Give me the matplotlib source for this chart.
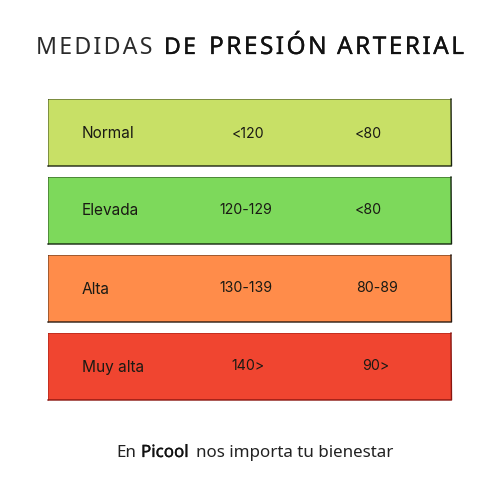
import matplotlib
matplotlib.use("Agg")
import matplotlib.pyplot as plt
import matplotlib.patheffects as pe

categories = ["Normal", "Elevada", "Alta", "Muy alta"]
sistolica = ["<120", "120-129", "130-139", "140>"]
diastolica = ["<80", "<80", "80-89", "90>"]
colores = ["#C8E066", "#7DD95B", "#FF8C4A", "#F04530"]
bordes = ["#1c2410", "#14260f", "#2a1a10", "#8a1510"]
tops = [99, 177, 255, 333]
text_y = [134, 210.5, 289.5, 367.5]
num_y = [134, 210, 288, 366.5]
sis_x = [248, 246, 246, 248]
dia_x = [368, 368, 377, 376]

fig = plt.figure(figsize=(5, 5), dpi=100, facecolor="white")
ax = fig.add_axes([0, 0, 1, 1])
ax.set_xlim(0, 500)
ax.set_ylim(500, 0)
ax.axis("off")

H = 67
W = 403
X0 = 48
for top, c, b in zip(tops, colores, bordes):
    ax.barh(top + H / 2, W, height=H, left=X0, color=c, edgecolor="none", zorder=1)
    ax.plot([X0, X0 + W], [top, top], color=b, lw=0.7, alpha=0.45, zorder=2)
    ax.plot([X0, X0], [top, top + H], color=b, lw=0.6, alpha=0.5, zorder=2)
    ax.plot([X0, X0 + W + 0.5, X0 + W], [top + H, top + H, top], color=b, lw=1.0, zorder=2)

tc = "#1a1a14"
for i, cat in enumerate(categories):
    ax.text(81.5, text_y[i], cat, family="Inter", fontsize=11.1, color=tc, va="center", ha="left", zorder=3)
    ax.text(sis_x[i], num_y[i], sistolica[i], family="Inter", fontsize=10.2, color=tc, va="center", ha="center", zorder=3)
    ax.text(dia_x[i], num_y[i], diastolica[i], family="Inter", fontsize=10.2, color=tc, va="center", ha="center", zorder=3)

heavy = [pe.withStroke(linewidth=0.2, foreground="#111111")]
hs = "\u200a"
ax.text(36, 54, hs.join("MEDIDAS"), family="Noto Sans", fontsize=16.6, color="#2a2a2a")
ax.text(164, 54, hs.join("DE"), family="Noto Sans", fontsize=16.6, color="#111111", path_effects=heavy)
ax.text(209, 54, hs.join("PRESIÓN"), family="Noto Sans", fontsize=17.6, color="#111111", path_effects=heavy)
ax.text(337, 54, hs.join("ARTERIAL"), family="Noto Sans", fontsize=17.6, color="#111111", path_effects=heavy)

ax.text(116, 457, "En", family="Noto Sans", fontsize=12.2, color="#222222")
ax.text(141, 457, "Picool", family="Noto Sans", fontsize=12.2, color="#111111", path_effects=heavy)
ax.text(196, 457, "nos importa tu bienestar", family="Noto Sans", fontsize=12.2, color="#222222")

fig.savefig("out.png", dpi=100, facecolor="white")
